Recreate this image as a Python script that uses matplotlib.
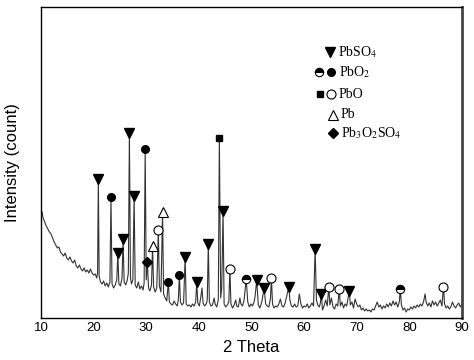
import matplotlib
matplotlib.use('Agg')
import matplotlib.pyplot as plt

plt.rcParams['font.family'] = ['Liberation Sans', 'DejaVu Sans']
plt.rcParams['mathtext.fontset'] = 'stix'

# XRD pattern (2 theta in degrees, intensity in arbitrary counts)
two_theta = [10.0, 10.2, 10.4, 10.7, 11.0, 11.3, 11.6, 11.9, 12.2, 12.5, 12.8, 13.1, 13.4, 13.7, 14.0,
             14.3, 14.6, 14.9, 15.2, 15.5, 15.8, 16.1, 16.4, 16.7, 17.0, 17.3, 17.6, 17.9, 18.2, 18.5,
             18.8, 19.1, 19.4, 19.7, 20.0, 20.3, 20.6, 20.75, 20.9, 21.05, 21.3, 21.6, 21.9, 22.2, 22.5,
             22.8, 23.1, 23.3, 23.5, 23.8, 24.1, 24.4, 24.6, 24.8, 25.1, 25.4, 25.6, 25.8, 26.1, 26.4,
             26.6, 26.8, 27.0, 27.2, 27.45, 27.7, 27.9, 28.2, 28.5, 28.8, 29.1, 29.4, 29.6, 29.8, 30.0,
             30.2, 30.45, 30.7, 31.0, 31.2, 31.4, 31.7, 32.0, 32.3, 32.5, 32.8, 33.1, 33.3, 33.6, 33.9,
             34.2, 34.4, 34.7, 35.0, 35.3, 35.6, 35.9, 36.1, 36.3, 36.5, 36.8, 37.1, 37.4, 37.6, 37.9,
             38.2, 38.5, 38.8, 39.1, 39.4, 39.6, 39.8, 40.1, 40.4, 40.6, 40.8, 41.1, 41.4, 41.6, 41.8,
             42.0, 42.3, 42.6, 42.9, 43.1, 43.4, 43.7, 43.9, 44.15, 44.35, 44.6, 44.8, 45.1, 45.4, 45.7,
             45.9, 46.1, 46.4, 46.7, 47.0, 47.2, 47.5, 47.8, 48.0, 48.3, 48.6, 49.0, 49.3, 49.6, 49.9,
             50.2, 50.5, 50.7, 51.0, 51.3, 51.6, 51.9, 52.1, 52.4, 52.7, 53.0, 53.3, 53.6, 53.8, 54.0,
             54.3, 54.6, 54.9, 55.2, 55.5, 55.8, 56.1, 56.4, 56.8, 57.1, 57.3, 57.6, 57.9, 58.2, 58.5,
             58.8, 59.1, 59.4, 59.7, 60.0, 60.3, 60.6, 60.9, 61.2, 61.5, 61.8, 62.1, 62.35, 62.6, 62.9,
             63.1, 63.3, 63.5, 63.8, 64.1, 64.4, 64.7, 64.9, 65.2, 65.5, 65.8, 66.1, 66.4, 66.7, 66.9,
             67.2, 67.5, 67.8, 68.1, 68.3, 68.6, 68.8, 69.1, 69.4, 69.7, 70.0, 70.3, 70.6, 70.9, 71.2,
             71.5, 71.8, 72.1, 72.4, 72.7, 73.0, 73.3, 73.6, 73.9, 74.2, 74.5, 74.8, 75.1, 75.4, 75.7,
             76.0, 76.3, 76.6, 76.9, 77.2, 77.5, 77.8, 78.1, 78.3, 78.5, 78.8, 79.1, 79.4, 79.7, 80.0,
             80.3, 80.6, 80.9, 81.2, 81.5, 81.8, 82.1, 82.4, 82.7, 83.0, 83.2, 83.5, 83.8, 84.1, 84.4,
             84.7, 85.0, 85.3, 85.6, 85.9, 86.2, 86.5, 86.7, 87.0, 87.3, 87.6, 87.9, 88.2, 88.5, 88.8,
             89.1, 89.4, 89.7, 90.0]
counts = [103, 106, 100, 96, 92, 89, 86, 84, 80, 76, 73, 70, 71, 66, 64,
          62, 65, 60, 58, 61, 57, 55, 58, 52, 50, 53, 49, 47, 50, 46,
          48, 45, 49, 45, 43, 44, 40, 45, 139, 42, 36, 34, 37, 32, 35,
          31, 36, 121, 34, 30, 33, 38, 65, 34, 32, 40, 79, 36, 33, 38,
          45, 185, 40, 34, 38, 122, 33, 30, 36, 29, 32, 28, 35, 169, 38,
          56, 30, 27, 33, 72, 31, 26, 30, 88, 32, 26, 106, 24, 20, 17,
          36, 16, 14, 13, 17, 14, 12, 18, 43, 16, 13, 15, 61, 14, 12,
          13, 11, 14, 12, 16, 36, 15, 12, 22, 30, 15, 12, 14, 18, 74,
          16, 12, 13, 20, 14, 11, 18, 180, 20, 30, 107, 14, 11, 13, 16,
          49, 14, 10, 13, 18, 12, 11, 20, 14, 12, 18, 39, 16, 11, 14,
          12, 16, 22, 38, 13, 10, 15, 20, 30, 14, 12, 11, 19, 40, 14,
          10, 12, 11, 14, 19, 12, 11, 15, 24, 31, 18, 12, 11, 14, 11,
          12, 24, 14, 10, 12, 11, 14, 10, 12, 15, 12, 69, 18, 13, 11,
          15, 24, 8, 12, 18, 12, 31, 13, 20, 11, 9, 14, 12, 29, 12,
          16, 10, 14, 12, 18, 27, 13, 16, 10, 19, 14, 11, 13, 8, 10,
          7, 9, 7, 8, 6, 9, 8, 12, 16, 11, 13, 9, 12, 10, 14,
          11, 15, 12, 17, 13, 16, 11, 16, 29, 13, 8, 10, 6, 9, 8,
          11, 9, 12, 10, 13, 11, 14, 12, 16, 24, 16, 12, 15, 11, 17,
          13, 16, 12, 15, 18, 12, 31, 14, 10, 12, 9, 11, 16, 12, 10,
          13, 15, 11, 14]

# identified reflections per phase: (2 theta, peak height)
pbso4_pos = [20.9, 24.6, 25.6, 26.8, 27.7, 37.4, 39.6, 41.8, 44.6, 51.0, 52.4, 57.1, 62.1, 63.3, 68.6]
pbso4_h = [139, 65, 79, 185, 122, 61, 36, 74, 107, 38, 30, 31, 69, 24, 27]
pbo2_pos = [23.3, 29.8, 34.2, 36.3]
pbo2_h = [121, 169, 36, 43]
pbo2_half_pos = [49.0, 78.3]
pbo2_half_h = [39, 29]
pbo_sq_pos = [43.9]
pbo_sq_h = [180]
pbo_pos = [32.3, 45.9, 53.8, 64.7, 66.7, 86.5]
pbo_h = [88, 49, 40, 31, 29, 31]
pb_pos = [31.2, 33.1]
pb_h = [72, 106]
pb3_pos = [30.2]
pb3_h = [56]

xticks = [10, 20, 30, 40, 50, 60, 70, 80, 90]

s_tri = dict(marker='v', ms=6.5, mfc='black', mec='black')
s_dot = dict(marker='o', ms=5.5, mfc='black', mec='black')
s_half = dict(marker='o', ms=6, mfc='black', mec='black', fillstyle='top', markerfacecoloralt='white', mew=0.8)
s_sq = dict(marker='s', ms=5, mfc='black', mec='black')
s_ocirc = dict(marker='o', ms=6.5, mfc='white', mec='black', mew=0.8)
s_otri = dict(marker='^', ms=7, mfc='white', mec='black', mew=0.8)
s_dia = dict(marker='D', ms=5, mfc='black', mec='black')

fig = plt.figure(figsize=(4.74, 3.6), dpi=100)
ax = fig.add_axes([0.0865, 0.1167, 0.888, 0.864])

ax.plot(two_theta, counts, color='#333333', lw=0.8, zorder=2)

for pos, h, st in [(pbso4_pos, pbso4_h, s_tri), (pbo2_pos, pbo2_h, s_dot), (pbo2_half_pos, pbo2_half_h, s_half),
                   (pbo_sq_pos, pbo_sq_h, s_sq), (pbo_pos, pbo_h, s_ocirc), (pb_pos, pb_h, s_otri),
                   (pb3_pos, pb3_h, s_dia)]:
    ax.plot(pos, h, ls='none', zorder=3, **st)

# hand made legend, like the original
legend_rows = [
    (0.855, r'PbSO$_4$', [(0.686, s_tri)], 0.706),
    (0.792, r'PbO$_2$', [(0.661, s_half), (0.689, s_dot)], 0.708),
    (0.720, 'PbO', [(0.664, s_sq), (0.689, s_ocirc)], 0.708),
    (0.653, 'Pb', [(0.694, s_otri)], 0.711),
    (0.594, r'Pb$_3$O$_2$SO$_4$', [(0.694, s_dia)], 0.713),
]
for y, label, marks, tx in legend_rows:
    for mx, st in marks:
        ax.plot([mx], [y], transform=ax.transAxes, ls='none', **st)
    ax.text(tx, y, label, transform=ax.transAxes, family=['Liberation Serif', 'DejaVu Serif'],
            fontsize=10, va='center', ha='left')

ax.set_xlim(10, 90)
ax.set_ylim(0, 311)
ax.set_xticks(xticks)
ax.set_xticklabels([str(t) for t in xticks], fontsize=9.5)
ax.set_yticks([])
ax.tick_params(axis='x', length=0, pad=3)
ax.set_xlabel('2 Theta', fontsize=12, labelpad=4)
ax.set_ylabel('Intensity (count)', fontsize=12, labelpad=15)
for sp in ax.spines.values():
    sp.set_linewidth(1.0)
ax.spines['right'].set_linewidth(2.0)
ax.spines['right'].set_color('#444444')

fig.savefig('out.png', dpi=100)
